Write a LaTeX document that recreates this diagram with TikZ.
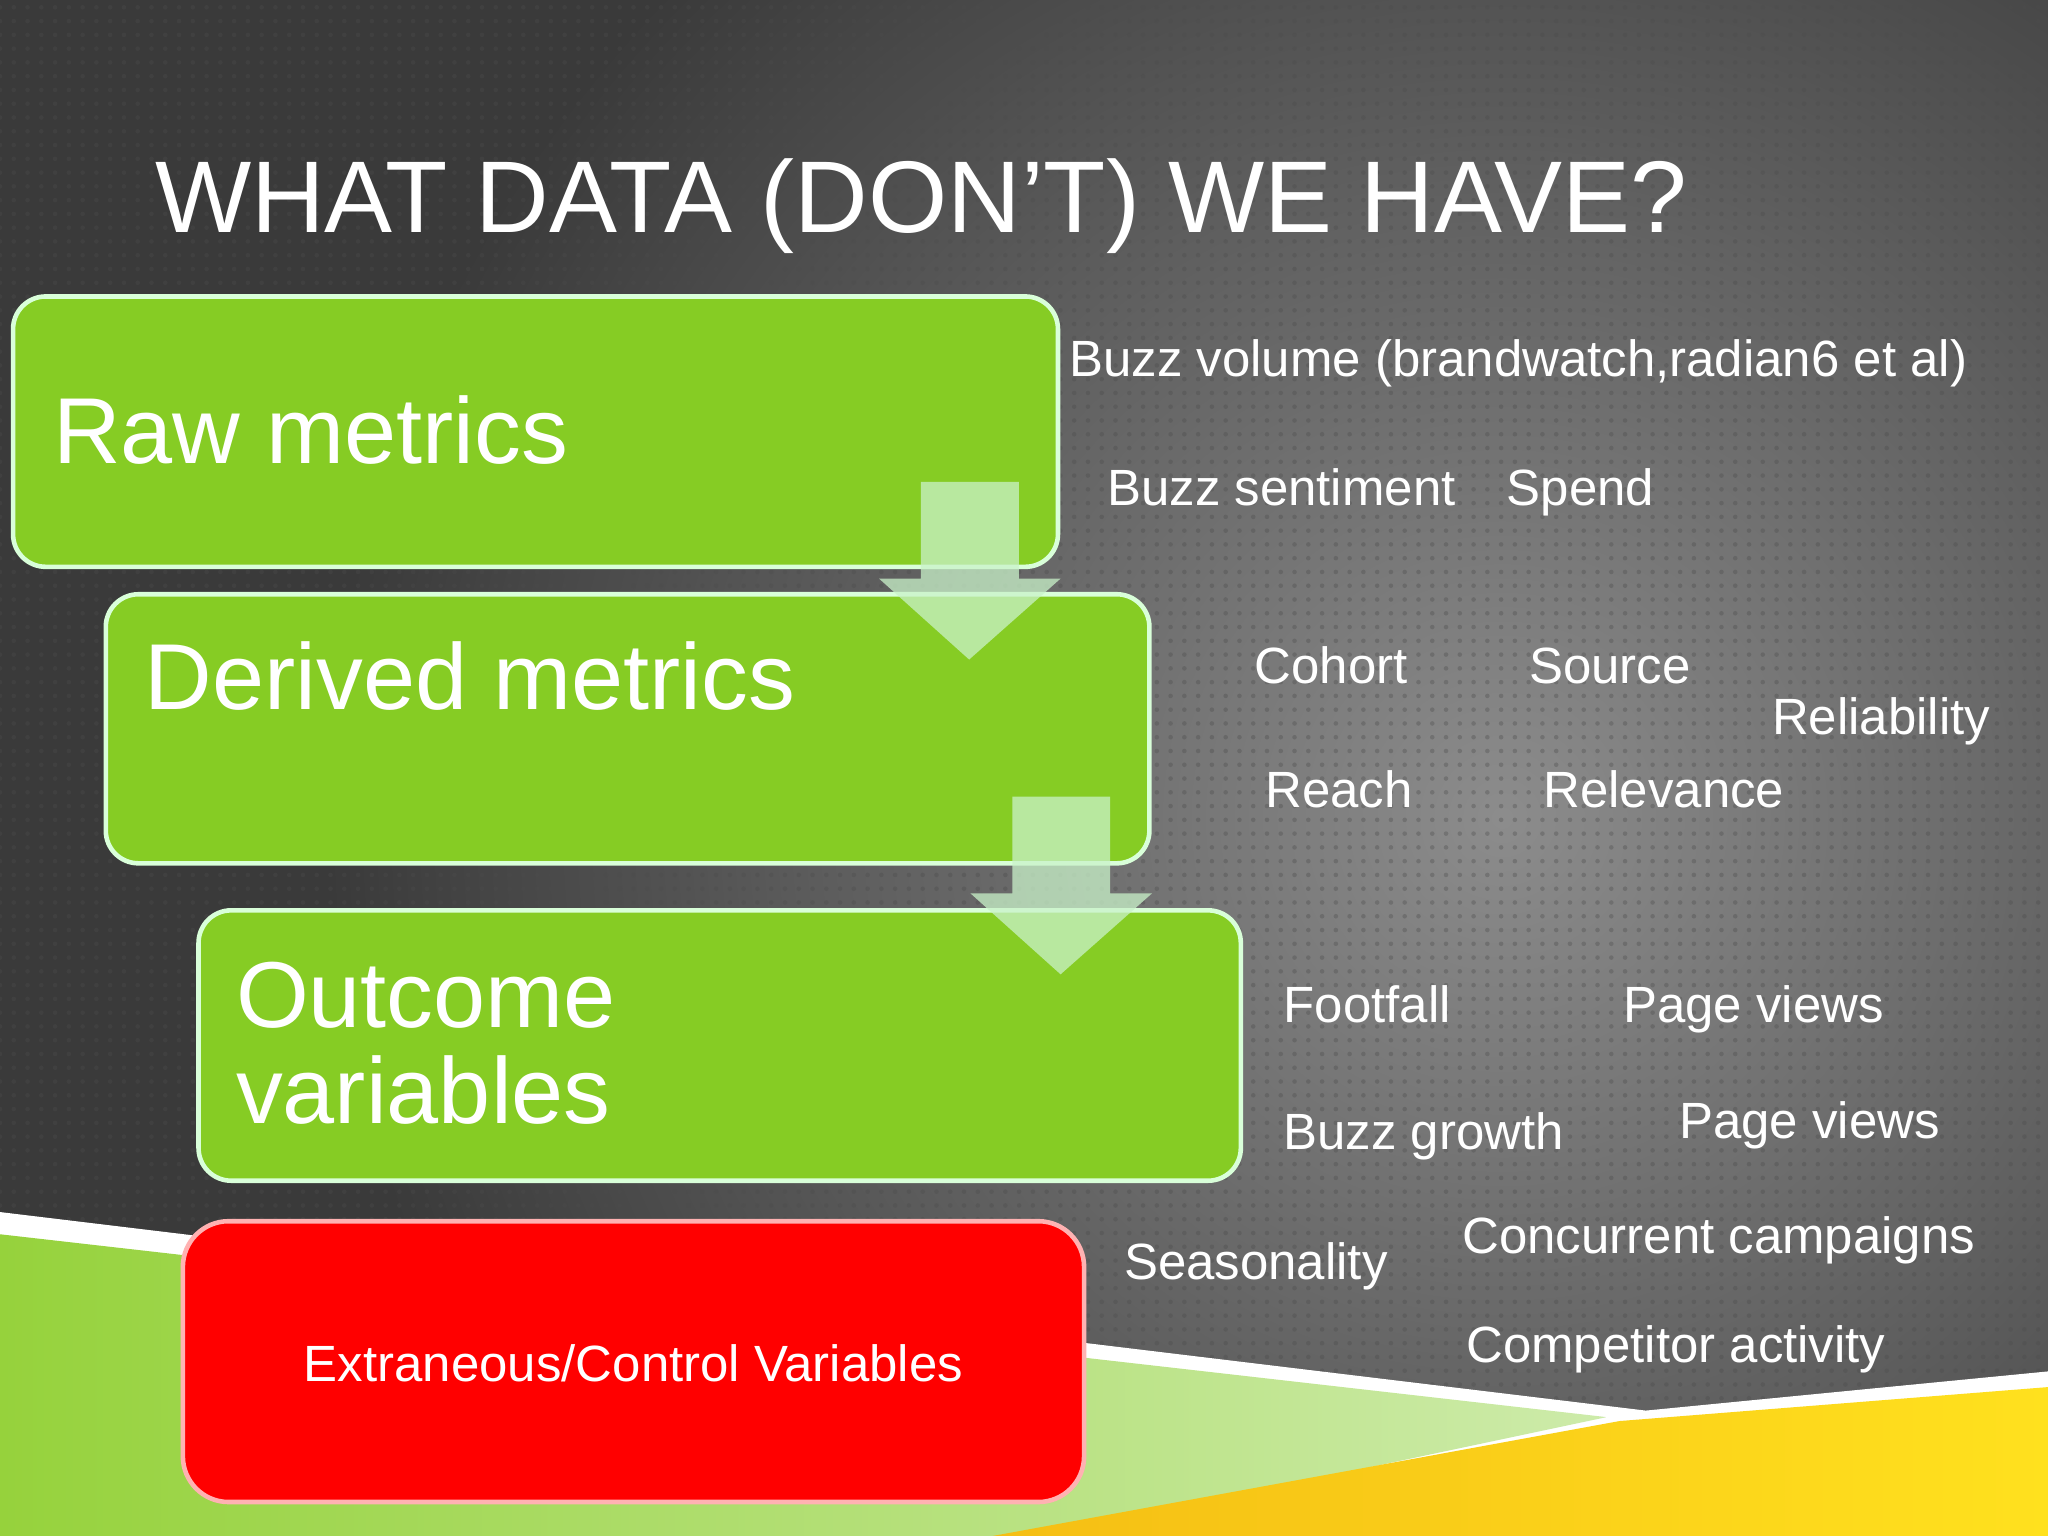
\documentclass[tikz,border=0pt]{standalone}
\usepackage{fontspec}
\setmainfont{Liberation Sans}
\usetikzlibrary{patterns}
\definecolor{boxgreen}{RGB}{134,204,36}
\definecolor{boxred}{RGB}{255,0,0}
\definecolor{bg}{RGB}{58,58,58}
\definecolor{paleA}{RGB}{205,235,170}
\definecolor{paleB}{RGB}{150,210,60}
\definecolor{yelA}{RGB}{245,190,20}
\definecolor{yelB}{RGB}{255,225,30}
\tikzset{
  stagebox/.style={draw=white!85!green, line width=1pt, fill=boxgreen, rounded corners=0.25cm},
  side/.style={anchor=base west, text=white, font=\fontsize{11.1}{13}\selectfont, inner sep=0pt},
  big/.style={anchor=base west, text=white, font=\fontsize{20.4}{24}\selectfont, inner sep=0pt, align=left},
  flowarrow/.style={fill=white!82!green!90!gray, fill opacity=0.75, draw=none}
}
\begin{document}
\begin{tikzpicture}[x=1cm,y=1cm]
\useasboundingbox (0,0) rectangle (15.68,11.76);
\begin{scope}
\clip (0,0) rectangle (15.68,11.76);
\fill[bg] (0,0) rectangle (15.68,11.76);
\shade[inner color=black!45, outer color=bg] (11.5,5.5) circle (9);
\fill[pattern=dots, pattern color=black!70, opacity=0.35] (0,0) rectangle (15.68,11.76);
% bottom stripes
\fill[white] (0,2.48) -- (12.6,0.96) -- (15.68,1.26) -- (15.68,0) -- (0,0) -- cycle;
\shade[left color=paleB, right color=paleA] (0,2.31) -- (12.3,0.91) -- (8.0,0) -- (0,0) -- cycle;
\shade[left color=yelA, right color=yelB] (15.68,1.14) -- (15.68,0) -- (7.6,0) -- (12.4,0.88) -- cycle;
\end{scope}
% title
\node[anchor=base west, text=white, font=\fontsize{22.2}{26}\selectfont, inner sep=0pt] (title) at (1.18,9.98) {WHAT DATA (DON’T) WE HAVE?};
% boxes
\draw[stagebox] (0.10,7.42) rectangle (8.10,9.49);
\node[big] (raw) at (0.40,8.21) {Raw metrics};
\draw[stagebox] (0.81,5.15) rectangle (8.80,7.21);
\node[big] (der) at (1.10,6.33) {Derived metrics};
\draw[stagebox] (1.52,2.72) rectangle (9.50,4.79);
\node[big] (out) at (1.80,3.89) {Outcome};
\node[big] (var) at (1.80,3.16) {variables};
\draw[draw=white!70!red, line width=1pt, fill=boxred, rounded corners=0.35cm] (1.40,0.26) rectangle (8.30,2.41);
\node[text=white, font=\fontsize{11.1}{13}\selectfont] (ext) at (4.85,1.32) {Extraneous/Control Variables};
% arrows
\fill[flowarrow] (7.05,8.07) -- (7.80,8.07) -- (7.80,7.33) -- (8.12,7.33) -- (7.42,6.71) -- (6.73,7.33) -- (7.05,7.33) -- cycle;
\fill[flowarrow] (7.75,5.66) -- (8.50,5.66) -- (8.50,4.92) -- (8.82,4.92) -- (8.12,4.30) -- (7.43,4.92) -- (7.75,4.92) -- cycle;
% side labels
\node[side] (bv) at (8.18,8.88) {Buzz volume (brandwatch,radian6 et al)};
\node[side] (bs) at (8.47,7.89) {Buzz sentiment};
\node[side] (sp) at (11.53,7.89) {Spend};
\node[side] (co) at (9.60,6.53) {Cohort};
\node[side] (so) at (11.70,6.53) {Source};
\node[side] (re) at (13.56,6.14) {Reliability};
\node[side] (rc) at (9.68,5.58) {Reach};
\node[side] (rl) at (11.81,5.58) {Relevance};
\node[side] (ff) at (9.82,3.93) {Footfall};
\node[side] (pv1) at (12.42,3.93) {Page views};
\node[side] (bg) at (9.82,2.96) {Buzz growth};
\node[side] (pv2) at (12.85,3.04) {Page views};
\node[side] (se) at (8.60,1.96) {Seasonality};
\node[side] (cc) at (11.19,2.16) {Concurrent campaigns};
\node[side] (ca) at (11.22,1.33) {Competitor activity};
\end{tikzpicture}
\end{document}
